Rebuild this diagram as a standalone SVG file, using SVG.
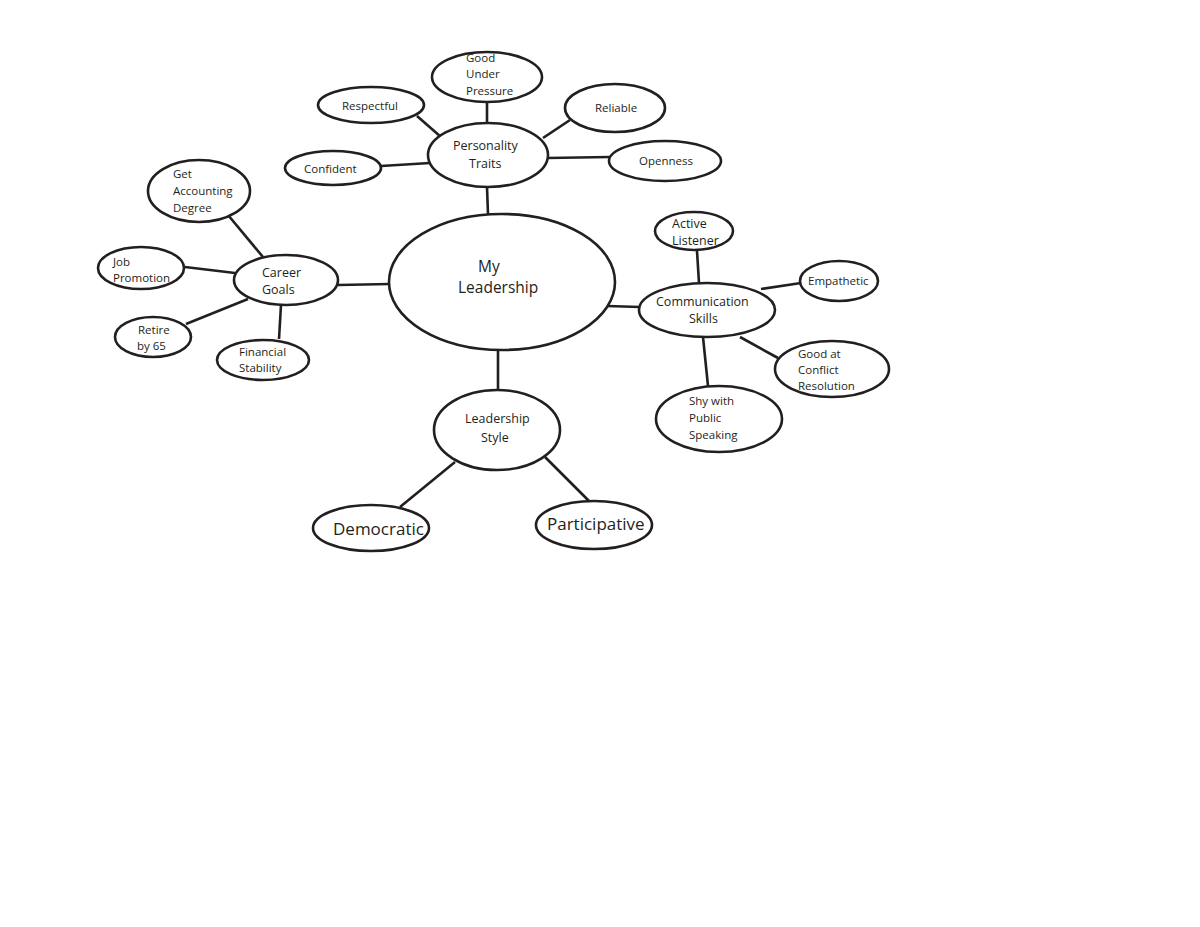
<svg xmlns="http://www.w3.org/2000/svg" width="1200" height="927" viewBox="0 0 1200 927">
<style>
.n{fill:#fff;stroke:#231f20;stroke-width:2.6}
.c line{stroke:#231f20;stroke-width:2.6}
text{font-family:"Open Sans","Noto Sans",sans-serif;fill:#231f20;font-size:11.5px}
.m{font-size:15.5px}
.s{font-size:12.5px}
.b{font-size:17px}
</style>
<rect width="1200" height="927" fill="#fff"/>
<g class="c" id="connectors">
<line x1="487" y1="102" x2="487" y2="123"/>
<line x1="417" y1="116" x2="441" y2="137"/>
<line x1="543" y1="138" x2="570" y2="120"/>
<line x1="547" y1="158" x2="610" y2="157"/>
<line x1="381" y1="166" x2="430" y2="163"/>
<line x1="487" y1="187" x2="488" y2="214"/>
<line x1="228" y1="215" x2="263" y2="257"/>
<line x1="185" y1="267" x2="235" y2="273"/>
<line x1="186" y1="324" x2="248" y2="299"/>
<line x1="281" y1="305" x2="279" y2="339"/>
<line x1="338" y1="285" x2="390" y2="284"/>
<line x1="697" y1="251" x2="699" y2="283"/>
<line x1="761" y1="289" x2="801" y2="283"/>
<line x1="740" y1="337" x2="778" y2="358"/>
<line x1="703" y1="337" x2="708" y2="386"/>
<line x1="607" y1="306" x2="640" y2="307"/>
<line x1="498" y1="350" x2="498" y2="390"/>
<line x1="455" y1="462" x2="400" y2="507"/>
<line x1="545" y1="457" x2="589" y2="501"/>
</g>
<g id="my-leadership"><ellipse class="n" cx="502" cy="282" rx="113" ry="68"/><text class="m" x="478" y="272">My</text><text class="m" x="458" y="293">Leadership</text></g>
<g id="personality-traits"><ellipse class="n" cx="488" cy="155" rx="60" ry="32"/><text class="s" x="453" y="150">Personality</text><text class="s" x="469" y="168">Traits</text></g>
<g id="good-under-pressure"><ellipse class="n" cx="487" cy="77" rx="55" ry="25"/><text x="466" y="62">Good</text><text x="466" y="78">Under</text><text x="466" y="95">Pressure</text></g>
<g id="respectful"><ellipse class="n" cx="371" cy="105" rx="53" ry="18"/><text x="342" y="110">Respectful</text></g>
<g id="reliable"><ellipse class="n" cx="615" cy="108" rx="50" ry="24"/><text x="595" y="112">Reliable</text></g>
<g id="openness"><ellipse class="n" cx="665" cy="161" rx="56" ry="20"/><text x="639" y="165">Openness</text></g>
<g id="confident"><ellipse class="n" cx="333" cy="168" rx="48" ry="17"/><text x="304" y="173">Confident</text></g>
<g id="career-goals"><ellipse class="n" cx="286" cy="280" rx="52" ry="25"/><text class="s" x="262" y="277">Career</text><text class="s" x="262" y="294">Goals</text></g>
<g id="get-accounting-degree"><ellipse class="n" cx="199" cy="191" rx="51" ry="31"/><text x="173" y="178">Get</text><text x="173" y="195">Accounting</text><text x="173" y="212">Degree</text></g>
<g id="job-promotion"><ellipse class="n" cx="141" cy="268" rx="43" ry="21"/><text x="113" y="266">Job</text><text x="113" y="282">Promotion</text></g>
<g id="retire"><ellipse class="n" cx="153" cy="337" rx="38" ry="20"/><text x="138" y="334">Retire</text><text x="137" y="350">by 65</text></g>
<g id="financial-stability"><ellipse class="n" cx="263" cy="360" rx="46" ry="20"/><text x="239" y="356">Financial</text><text x="239" y="372">Stability</text></g>
<g id="communication-skills"><ellipse class="n" cx="707" cy="310" rx="68" ry="27"/><text class="s" x="656" y="306">Communication</text><text class="s" x="689" y="323">Skills</text></g>
<g id="active-listener"><ellipse class="n" cx="694" cy="231" rx="39" ry="19"/><text class="s" x="672" y="228">Active</text><text class="s" x="672" y="245">Listener</text></g>
<g id="empathetic"><ellipse class="n" cx="839" cy="281" rx="39" ry="20"/><text x="808" y="285">Empathetic</text></g>
<g id="conflict-resolution"><ellipse class="n" cx="832" cy="369" rx="57" ry="28"/><text x="798" y="358">Good at</text><text x="798" y="374">Conflict</text><text x="798" y="390">Resolution</text></g>
<g id="shy-public-speaking"><ellipse class="n" cx="719" cy="419" rx="63" ry="33"/><text x="689" y="405">Shy with</text><text x="689" y="422">Public</text><text x="689" y="439">Speaking</text></g>
<g id="leadership-style"><ellipse class="n" cx="497" cy="430" rx="63" ry="40"/><text class="s" x="465" y="423">Leadership</text><text class="s" x="481" y="442">Style</text></g>
<g id="democratic"><ellipse class="n" cx="371" cy="528" rx="58" ry="23"/><text class="b" x="333" y="535">Democratic</text></g>
<g id="participative"><ellipse class="n" cx="594" cy="525" rx="58" ry="24"/><text class="b" x="547" y="530">Participative</text></g>
</svg>
